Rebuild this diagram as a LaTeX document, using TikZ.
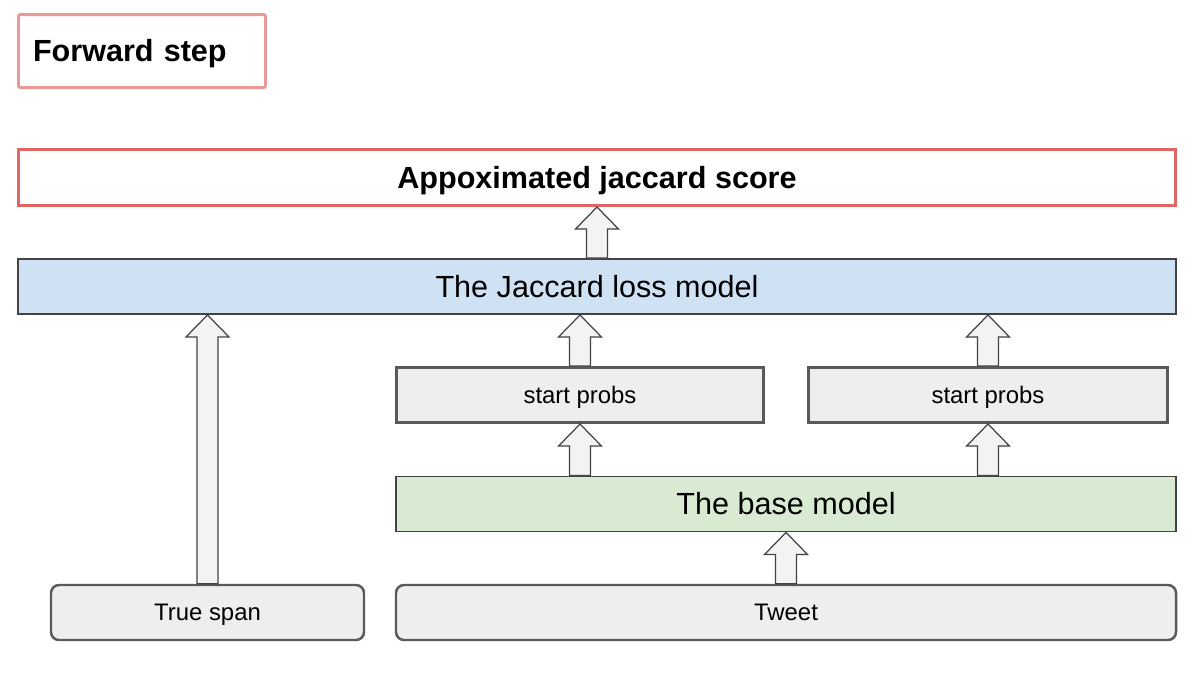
\documentclass[tikz,border=0pt]{standalone}
\usepackage{fontspec}
\setmainfont{Liberation Sans}
\usepackage{tikz}
\usetikzlibrary{positioning, calc}
\definecolor{FSPink}{HTML}{EA9999}
\definecolor{FSRed}{HTML}{E06666}
\definecolor{FSBlue}{HTML}{CFE2F3}
\definecolor{FSGreen}{HTML}{D9EAD3}
\definecolor{FSGray}{HTML}{EEEEEE}
\definecolor{FSDark}{HTML}{595959}
\definecolor{FSEdge}{HTML}{434343}
\definecolor{FSArrow}{HTML}{F3F3F3}

\newcommand{\bigtext}{\fontsize{17.4pt}{21pt}\selectfont}
\newcommand{\smalltext}{\fontsize{13.6pt}{16pt}\selectfont}

% hollow block arrow from #1 (below) up to #2, centred on node #3
\newcommand{\blockup}[3]{%
  \draw[barr] let \p1=(#1.north), \p2=(#2.south), \p3=(#3) in
    (\x3-0.21cm,\y1) -- (\x3-0.21cm,\y2-0.44cm) -- (\x3-0.43cm,\y2-0.44cm)
    -- (\x3,\y2) -- (\x3+0.43cm,\y2-0.44cm) -- (\x3+0.21cm,\y2-0.44cm)
    -- (\x3+0.21cm,\y1) -- cycle;}

\begin{document}
\begin{tikzpicture}[
          bigtx/.style={font=\bigtext, text height=15.75pt, text depth=3.7pt},
          smalltx/.style={font=\smalltext, text height=12.3pt, text depth=2.9pt},
          hd/.style={bigtx, font=\bigtext\bfseries, draw=FSRed,
                     line width=1.7pt, fill=white,
                     minimum width=23.14cm, minimum height=1.12cm},
          md/.style={bigtx, draw=FSEdge, line width=1.1pt,
                     minimum height=1.1cm},
          pb/.style={smalltx, draw=FSDark, line width=1.7pt, fill=FSGray,
                     minimum height=1.1cm},
          ip/.style={smalltx, draw=FSDark, line width=1.4pt, fill=FSGray,
                     rounded corners=0.16cm, minimum height=1.1cm},
          barr/.style={draw=FSEdge, line width=0.7pt, fill=FSArrow,
                       line join=miter}
        ]
        \useasboundingbox (0,0) rectangle (24,-13.44);

        % Title tag
        \node[bigtx, font=\bigtext\bfseries, draw=FSPink, line width=1.7pt,
              rounded corners=0.04cm, text width=4.36cm, inner xsep=0.29cm,
              align=left, minimum height=1.46cm]
              (fwd) at (2.84, -1.02) {Forward step};

        % Output score
        \node[hd] (score) at (11.94, -3.55) {Appoximated jaccard score};

        % Models
        \node[md, fill=FSBlue, minimum width=23.16cm]
              (jlm) at (11.94, -5.73) {The Jaccard loss model};
        \node[md, fill=FSGreen, minimum width=15.6cm]
              (base) at (15.72, -10.08) {The base model};

        % Probabilities
        \node[pb, minimum width=7.34cm] (sp1) at (11.6, -7.9) {start probs};
        \node[pb, minimum width=7.18cm] (sp2) at (19.76, -7.9) {start probs};

        % Inputs
        \node[ip, minimum width=6.26cm] (span) at (4.15, -12.25) {True span};
        \node[ip, minimum width=15.6cm] (tweet) at (15.72, -12.25) {Tweet};

        % Flow
        \blockup{jlm}{score}{jlm}
        \blockup{span}{jlm}{span}
        \blockup{sp1}{jlm}{sp1}
        \blockup{sp2}{jlm}{sp2}
        \blockup{base}{sp1}{sp1}
        \blockup{base}{sp2}{sp2}
        \blockup{tweet}{base}{tweet}
      \end{tikzpicture}
\end{document}
